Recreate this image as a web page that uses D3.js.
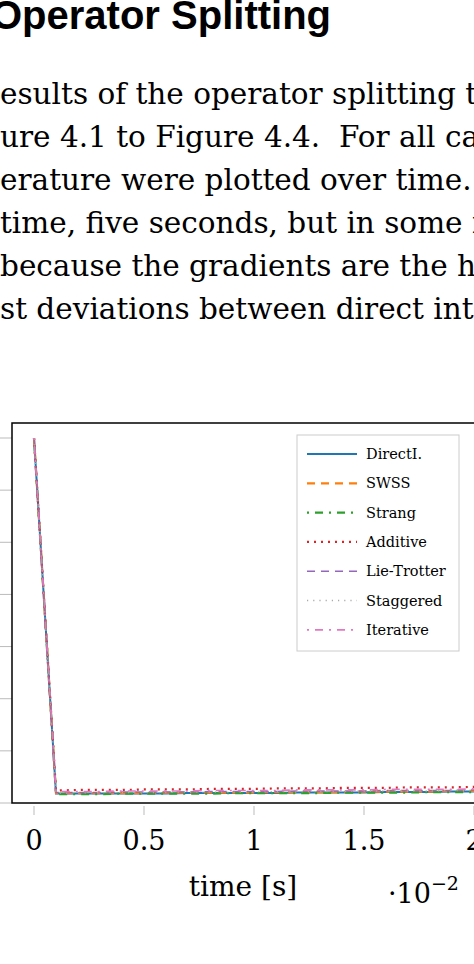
<!DOCTYPE html>
<html><head><meta charset="utf-8">
<script src="https://cdn.jsdelivr.net/npm/d3@7"></script>
<style>body{margin:0;background:#fff}svg{display:block}</style>
</head><body>
<div id="chart"></div>
<script>
// time in seconds
const times = [0,0.001,0.002,0.003,0.004,0.005,0.006,0.007,0.008,0.009,0.010,0.011,0.012,0.013,0.014,0.015,0.016,0.017,0.018,0.019,0.020,0.021,0.022];
const directI   = [7,0.18,0.18,0.18,0.18,0.18,0.18,0.19,0.19,0.19,0.19,0.19,0.20,0.20,0.20,0.20,0.21,0.21,0.21,0.22,0.22,0.22,0.22];
const swss      = [7,0.19,0.19,0.19,0.19,0.19,0.20,0.20,0.20,0.20,0.20,0.21,0.21,0.21,0.21,0.22,0.22,0.22,0.22,0.23,0.23,0.23,0.23];
const strang    = [7,0.17,0.17,0.17,0.18,0.18,0.18,0.18,0.18,0.19,0.19,0.19,0.19,0.19,0.20,0.20,0.20,0.20,0.21,0.21,0.21,0.21,0.21];
const additive  = [7,0.24,0.25,0.25,0.25,0.26,0.26,0.26,0.27,0.27,0.27,0.28,0.28,0.28,0.29,0.29,0.29,0.30,0.30,0.30,0.31,0.31,0.31];
const lieTrotter= [7,0.20,0.20,0.20,0.21,0.21,0.21,0.21,0.22,0.22,0.22,0.22,0.23,0.23,0.23,0.23,0.24,0.24,0.24,0.24,0.25,0.25,0.25];
const staggered = [7,0.19,0.19,0.20,0.20,0.20,0.20,0.21,0.21,0.21,0.21,0.22,0.22,0.22,0.22,0.23,0.23,0.23,0.23,0.24,0.24,0.24,0.24];
const iterative = [7,0.22,0.22,0.22,0.23,0.23,0.23,0.23,0.24,0.24,0.24,0.24,0.25,0.25,0.25,0.25,0.26,0.26,0.26,0.26,0.27,0.27,0.27];
const seriesNames = ["DirectI.","SWSS","Strang","Additive","Lie-Trotter","Staggered","Iterative"];
const xTicks = [0,0.005,0.01,0.015,0.02];
const xTickLabels = ["0","0.5","1","1.5","2"];
const yTicks = [0,1,2,3,4,5,6,7];
const paragraph = [
  "esults of the operator splitting t",
  "ure 4.1 to Figure 4.4.  For all cas",
  "erature were plotted over time.  T",
  "time, five seconds, but in some fi",
  "because the gradients are the h",
  "st deviations between direct int"
];

const allSeries = [directI, swss, strang, additive, lieTrotter, staggered, iterative];
const styles = [
  {c:"#1f77b4", d:null, w:2},
  {c:"#ff7f0e", d:"8,6", w:2.2},
  {c:"#2ca02c", d:"2,6,8,6", w:2.2},
  {c:"#d62728", d:"2,5", w:2.2},
  {c:"#9467bd", d:"8,6", w:1.5},
  {c:"#aaaaaa", d:"1.2,5", w:1.3},
  {c:"#e377c2", d:"2,6,8,6", w:1.7}
];

const svg = d3.select("#chart").append("svg").attr("width", 474).attr("height", 964);
const serif = "'DejaVu Serif', serif";

svg.append("text").attr("x", -9).attr("y", 29)
  .style("font-family", "'Liberation Sans', Arial, sans-serif")
  .style("font-weight", "bold").style("font-size", "40px")
  .text("Operator Splitting");

svg.selectAll(".para").data(paragraph).enter().append("text")
  .attr("x", 0).attr("y", (d, i) => 104 + i * 43)
  .style("font-family", serif).style("font-size", "29.5px")
  .attr("xml:space", "preserve")
  .text(d => d);

const box = {left: 12, top: 423, right: 480, bottom: 803};
const x = d3.scaleLinear().domain([0, 0.02]).range([34, 474]);
const y = d3.scaleLinear().domain([0, 7]).range([803, 438]);

svg.append("clipPath").attr("id", "clip").append("rect")
  .attr("x", box.left).attr("y", box.top)
  .attr("width", box.right - box.left).attr("height", box.bottom - box.top);

// tick marks (outside)
svg.append("g").selectAll("line").data(yTicks).enter().append("line")
  .attr("x1", 0).attr("x2", box.left).attr("y1", d => y(d)).attr("y2", d => y(d))
  .attr("stroke", "#bbb").attr("stroke-width", 1);
svg.append("g").selectAll("line").data(xTicks).enter().append("line")
  .attr("x1", d => x(d)).attr("x2", d => x(d)).attr("y1", box.bottom + 3).attr("y2", box.bottom + 12)
  .attr("stroke", "#bbb").attr("stroke-width", 1);

svg.append("g").selectAll("text").data(xTicks).enter().append("text")
  .attr("x", d => x(d)).attr("y", 850).attr("text-anchor", "middle")
  .style("font-family", serif).style("font-size", "27px")
  .text((d, i) => xTickLabels[i]);

svg.append("text").attr("x", 243).attr("y", 896).attr("text-anchor", "middle")
  .style("font-family", serif).style("font-size", "28px").text("time [s]");
const mult = svg.append("text").attr("x", 388).attr("y", 903)
  .style("font-family", serif).style("font-size", "27px");
mult.append("tspan").text("·10");
mult.append("tspan").attr("dy", -13).style("font-size", "19px").text("−2");

const line = d3.line().x((d, i) => x(times[i])).y(d => y(d));
const plot = svg.append("g").attr("clip-path", "url(#clip)");
allSeries.forEach((s, k) => {
  plot.append("path").datum(s).attr("d", line).attr("fill", "none")
    .attr("stroke", styles[k].c).attr("stroke-width", styles[k].w)
    .attr("stroke-dasharray", styles[k].d);
});

svg.append("rect").attr("x", box.left).attr("y", box.top)
  .attr("width", box.right - box.left).attr("height", box.bottom - box.top)
  .attr("fill", "none").attr("stroke", "#000").attr("stroke-width", 1.5);

// legend
const lg = svg.append("g");
lg.append("rect").attr("x", 297).attr("y", 435).attr("width", 162).attr("height", 216)
  .attr("fill", "#fff").attr("stroke", "#ccc").attr("stroke-width", 1);
seriesNames.forEach((n, k) => {
  const yy = 454 + k * 29.3;
  lg.append("line").attr("x1", 307).attr("x2", 357).attr("y1", yy).attr("y2", yy)
    .attr("stroke", styles[k].c).attr("stroke-width", styles[k].w)
    .attr("stroke-dasharray", styles[k].d);
  lg.append("text").attr("x", 366).attr("y", yy + 5)
    .style("font-family", serif).style("font-size", "14.5px").text(n);
});
</script>
</body></html>
